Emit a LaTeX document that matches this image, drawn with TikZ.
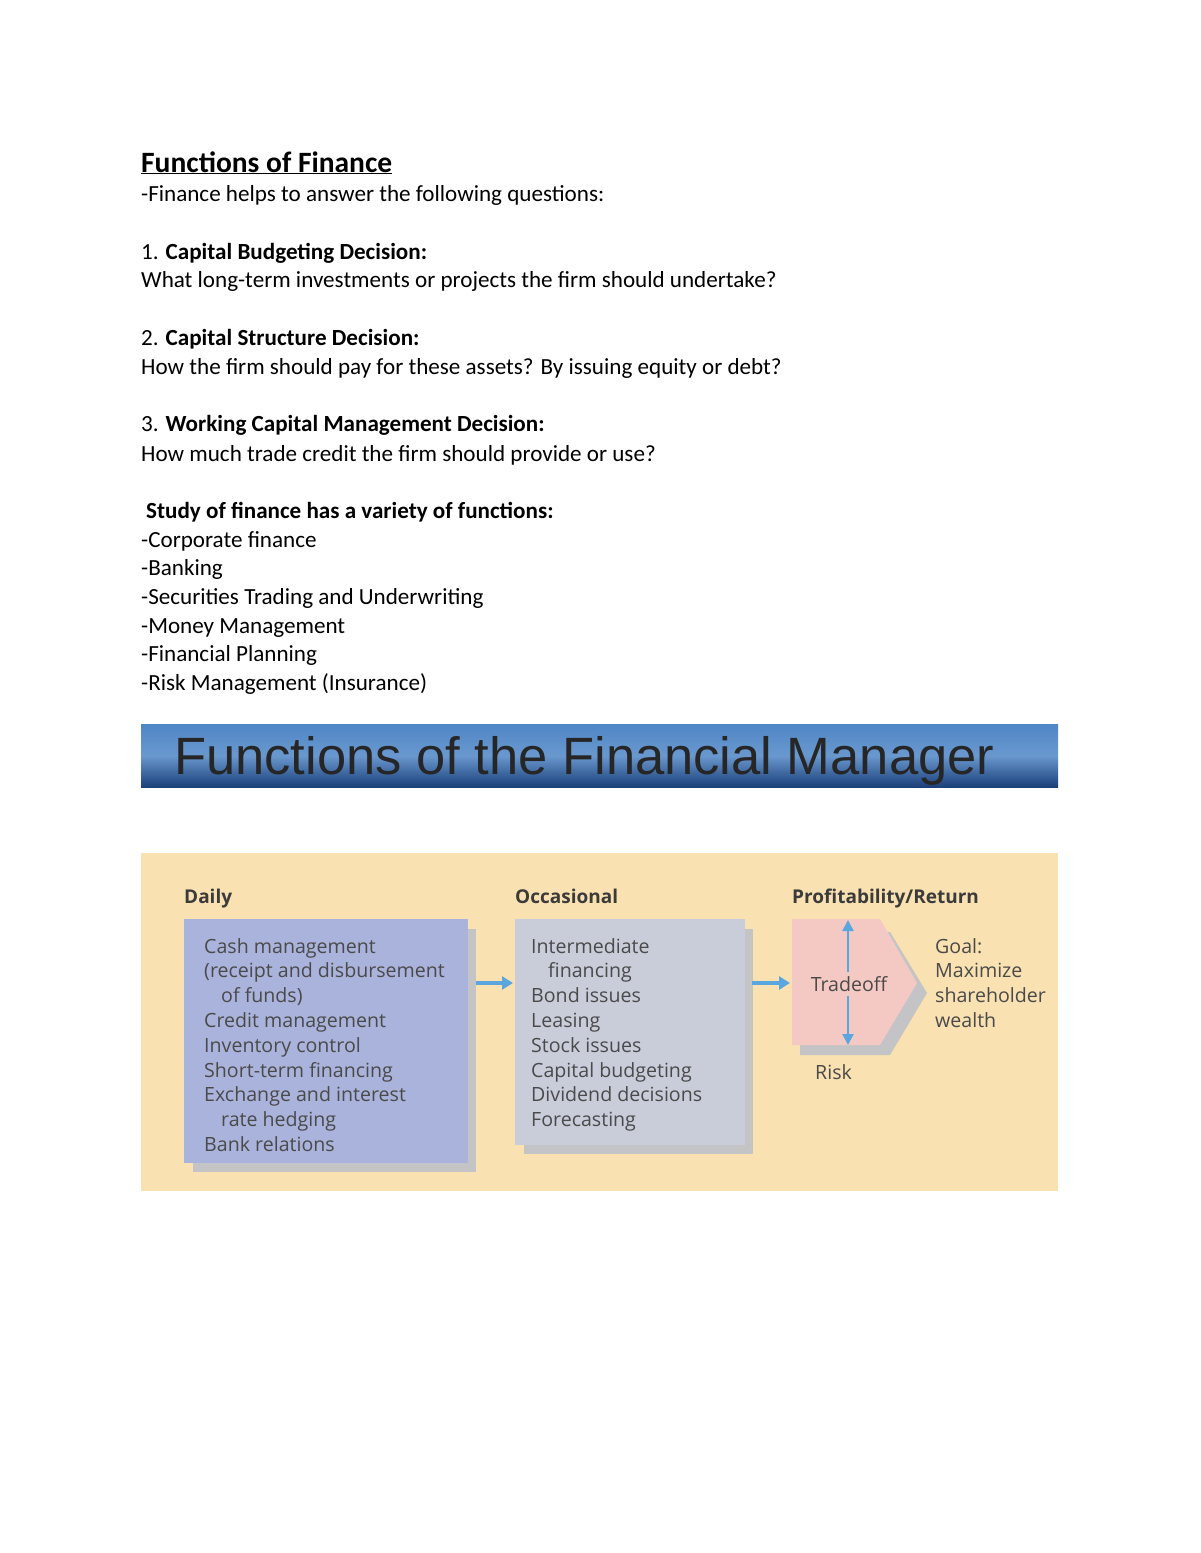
\documentclass[tikz,border=0pt]{standalone}
\usepackage{fontspec}
\setmainfont{Carlito}
\newfontfamily\diag{Open Sans}
\newfontfamily\ban{Liberation Sans}
\usetikzlibrary{arrows.meta}
\definecolor{panel}{HTML}{F9E1B1}
\definecolor{daily}{HTML}{AAB3DB}
\definecolor{occ}{HTML}{C9CDDA}
\definecolor{pinkc}{HTML}{F4C9C3}
\definecolor{shad}{HTML}{C4C4C6}
\definecolor{arr}{HTML}{5AA7DF}
\definecolor{txt}{HTML}{4A4A4A}
\definecolor{bandark}{HTML}{1B3F7A}
\definecolor{banlight}{HTML}{4F86C6}
\tikzset{
  body/.style={anchor=base west,inner sep=0pt,font=\fontsize{23.1}{29}\selectfont},
  dtext/.style={anchor=north west,inner sep=0pt,align=left,text=txt,font=\diag\fontsize{19.6}{24.8}\selectfont},
  dhead/.style={anchor=base west,inner sep=0pt,text=txt!80!black,font=\diag\bfseries\fontsize{19}{24}\selectfont},
  flow/.style={draw=arr,line width=3.5pt,-{Triangle[length=11pt,width=13pt]}},
  vflow/.style={draw=arr,line width=2.2pt,-{Triangle[length=11pt,width=11pt]}},
}
\begin{document}
\begin{tikzpicture}[x=1pt,y=-1pt]
\useasboundingbox (0,0) rectangle (1200,1553);
\fill[white] (0,0) rectangle (1200,1553);
\node[body,font=\bfseries\fontsize{29.5}{32}\selectfont] (title) at (141,172) {\underline{Functions of Finance}};
\node[body] (l1) at (141,201) {-Finance helps to answer the following questions:};
\node[body] (l2) at (141,259) {1. \textbf{Capital Budgeting Decision:}};
\node[body] (l3) at (141,287) {What long-term investments or projects the firm should undertake?};
\node[body] (l4) at (141,345) {2. \textbf{Capital Structure Decision:}};
\node[body] (l5) at (141,374) {How the firm should pay for these assets? By issuing equity or debt?};
\node[body] (l6) at (141,431) {3. \textbf{Working Capital Management Decision:}};
\node[body] (l7) at (141,461) {How much trade credit the firm should provide or use?};
\node[body] (l8) at (146,518) {\textbf{Study of finance has a variety of functions:}};
\node[body] (l9) at (141,547) {-Corporate finance};
\node[body] (l10) at (141,575) {-Banking};
\node[body] (l11) at (141,604) {-Securities Trading and Underwriting};
\node[body] (l12) at (141,633) {-Money Management};
\node[body] (l13) at (141,661) {-Financial Planning};
\node[body] (l14) at (141,690) {-Risk Management (Insurance)};
% banner
\shade[top color=banlight,bottom color=bandark,middle color=banlight!85!white] (141,724) rectangle (1058,787);
\node[anchor=base west,inner sep=0pt,font=\ban\fontsize{52.5}{56}\selectfont,text=black!85] (ban) at (174,774) {Functions of the Financial Manager};
% panel
\fill[panel] (141,853) rectangle (1058,1191);
\node[dhead] (hd) at (184,903) {Daily};
\node[dhead] (ho) at (515,903) {Occasional};
\node[dhead] (hp) at (792,903) {Profitability/Return};
\fill[shad] (193,929) rectangle (476,1172);
\fill[daily] (184,919) rectangle (468,1163);
\fill[shad] (524,929) rectangle (753,1154);
\fill[occ] (515,919) rectangle (745,1145);
\fill[shad] (800,932) -- (890,932) -- (927,993) -- (890,1055) -- (800,1055) -- cycle;
\fill[pinkc] (792,919) -- (880,919) -- (917,983) -- (880,1045) -- (792,1045) -- cycle;
\node[dtext] (dl) at (204,938) {Cash management\\(receipt and disbursement\\\hspace*{17pt}of funds)\\Credit management\\Inventory control\\Short-term financing\\Exchange and interest\\\hspace*{17pt}rate hedging\\Bank relations};
\node[dtext] (ol) at (531,938) {Intermediate\\\hspace*{17pt}financing\\Bond issues\\Leasing\\Stock issues\\Capital budgeting\\Dividend decisions\\Forecasting};
\node[anchor=center,inner sep=0pt,text=txt,font=\diag\fontsize{19.6}{24}\selectfont] (trade) at (849,984) {Tradeoff};
\node[anchor=base west,inner sep=0pt,text=txt,font=\diag\fontsize{19.6}{24}\selectfont] (risk) at (815,1079) {Risk};
\node[dtext] (goal) at (935,938) {Goal:\\Maximize\\shareholder\\wealth};
\coordinate (a1s) at (476,983); \coordinate (a1e) at (513,983);
\coordinate (a2s) at (752,983); \coordinate (a2e) at (790,983);
\draw[flow] (a1s) -- (a1e);
\draw[flow] (a2s) -- (a2e);
\coordinate (up) at (848,920); \coordinate (dn) at (848,1045);
\draw[vflow] (trade.north -| up) ++(0,-4) -- (up);
\draw[vflow] (trade.south -| dn) ++(0,4) -- (dn);
\end{tikzpicture}
\end{document}
